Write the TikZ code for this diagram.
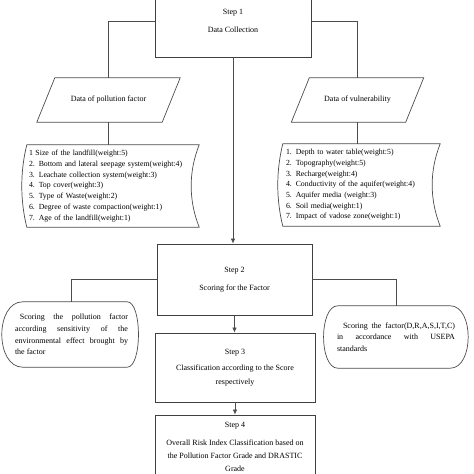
\documentclass[tikz,border=0pt]{standalone}
\usepackage{fontspec}
\setmainfont{Liberation Serif}
\usetikzlibrary{arrows.meta,calc}
\begin{document}
\begin{tikzpicture}[x=1pt,y=-1pt,
  ln/.style={draw=black!70, line width=0.7pt},
  arr/.style={ln,-{Latex[length=5pt,width=4.5pt]}},
  stepbox/.style={draw=black!75, line width=0.8pt, align=center, inner sep=0pt,
    font=\fontsize{8}{13.5}\selectfont},
  txt/.style={inner sep=0pt, font=\fontsize{8}{10.7}\selectfont},
  lst/.style={inner sep=0pt, font=\fontsize{7.8}{10.7}\selectfont},
  oval/.style={inner sep=0pt, align=left, font=\fontsize{8}{11.7}\selectfont},
]
\useasboundingbox (0,0) rectangle (474,474);

% steps
\node[stepbox, minimum width=156pt, minimum height=72pt] (s1) at (233,21)
  {Step 1\\[4pt]Data Collection};
\node[stepbox, minimum width=155pt, minimum height=71pt] (s2) at (234.5,279.5)
  {Step 2\\[4.5pt]Scoring for the Factor};
\node[stepbox, minimum width=160pt, minimum height=69pt] (s3) at (235,367.5)
  {Step 3\\[2.5pt]Classification according to the Score\\respectively};
\node[stepbox, minimum width=160pt, minimum height=64pt, font=\fontsize{8}{13}\selectfont] (s4) at (235,447)
  {Step 4\\[5pt]Overall Risk Index Classification based on\\the Pollution Factor Grade and DRASTIC\\Grade};

% parallelograms
\node[txt, minimum width=125pt, minimum height=44pt] (p1) at (108.5,100) {Data of pollution factor};
\draw[ln] ($(p1.north west)+(9,0)$) -- ($(p1.north east)+(9,0)$) -- ($(p1.south east)+(-9,0)$) -- ($(p1.south west)+(-9,0)$) -- cycle;
\node[txt, minimum width=114pt, minimum height=44pt] (p2) at (357.5,100) {Data of vulnerability};
\draw[ln] ($(p2.north west)+(9,0)$) -- ($(p2.north east)+(9,0)$) -- ($(p2.south east)+(-9,0)$) -- ($(p2.south west)+(-9,0)$) -- cycle;

% lists
\node[lst, minimum width=172pt, minimum height=82pt, text width=168pt, align=left] (l1) at (113,186)
  {1 Size of the landfill(weight:5)\\
   2. Bottom and lateral seepage system(weight:4)\\
   3. Leachate collection system(weight:3)\\
   4. Top cover(weight:3)\\
   5. Type of Waste(weight:2)\\
   6. Degree of waste compaction(weight:1)\\
   7. Age of the landfill(weight:1)};
\draw[ln] (l1.north west) -- (l1.north east) .. controls +(-10.7,27) and +(-10.7,-27) .. (l1.south east)
  -- (l1.south west) .. controls +(-6.7,-27) and +(-6.7,27) .. (l1.north west) -- cycle;
\node[lst, minimum width=157pt, minimum height=82pt, text width=151pt, align=left] (l2) at (361.5,185)
  {1. Depth to water table(weight:5)\\
   2. Topography(weight:5)\\
   3. Recharge(weight:4)\\
   4. Conductivity of the aquifer(weight:4)\\
   5. Aquifer media (weight:3)\\
   6. Soil media(weight:1)\\
   7. Impact of vadose zone(weight:1)};
\draw[ln] (l2.north west) -- (l2.north east) .. controls +(-10.7,27) and +(-10.7,-27) .. (l2.south east)
  -- (l2.south west) .. controls +(-6.7,-27) and +(-6.7,27) .. (l2.north west) -- cycle;

% side ovals
\node[oval, minimum height=65pt] (e1) at (71.5,334.5)
  {\makebox[113pt][s]{\hspace{5pt}Scoring the pollution factor}\\
   \makebox[113pt][s]{according sensitivity of the}\\
   \makebox[113pt][s]{environmental effect brought by}\\
   the factor};
\draw[ln] ($(e1.north west)+(8,0)$) -- ($(e1.north east)+(-1,0)$)
  .. controls +(15,0) and +(15,0) .. ($(e1.south east)+(-1,0)$)
  -- ($(e1.south west)+(8,0)$)
  .. controls +(-28,0) and +(-28,0) .. ($(e1.north west)+(8,0)$) -- cycle;
\node[oval, minimum height=62pt] (e2) at (396,337)
  {\makebox[118pt][s]{\hspace{6pt}Scoring the factor(D,R,A,S,I,T,C)}\\
   \makebox[118pt][s]{in accordance with USEPA}\\
   standards};
\draw[ln] ($(e2.north west)+(1,0)$) -- ($(e2.north east)+(-5,0)$)
  .. controls +(24,0) and +(24,0) .. ($(e2.south east)+(-5,0)$)
  -- ($(e2.south west)+(1,0)$)
  .. controls +(-19,0) and +(-19,0) .. ($(e2.north west)+(1,0)$) -- cycle;

% connectors
\draw[ln] (s1.west) -| (p1.north);
\draw[ln] (s1.east) -| (p2.north);
\draw[ln] (p1.south) -- (p1.south |- l1.north);
\draw[ln] (p2.south) -- (p2.south |- l2.north);
\draw[arr] (s1.south) -- (s1.south |- s2.north);
\draw[ln] (s2.west) -| (e1.north);
\draw[ln] (s2.east) -| (e2.north);
\draw[arr] (s2.south) -- (s2.south |- s3.north);
\draw[arr] (s3.south) -- (s3.south |- s4.north);
\end{tikzpicture}
\end{document}
